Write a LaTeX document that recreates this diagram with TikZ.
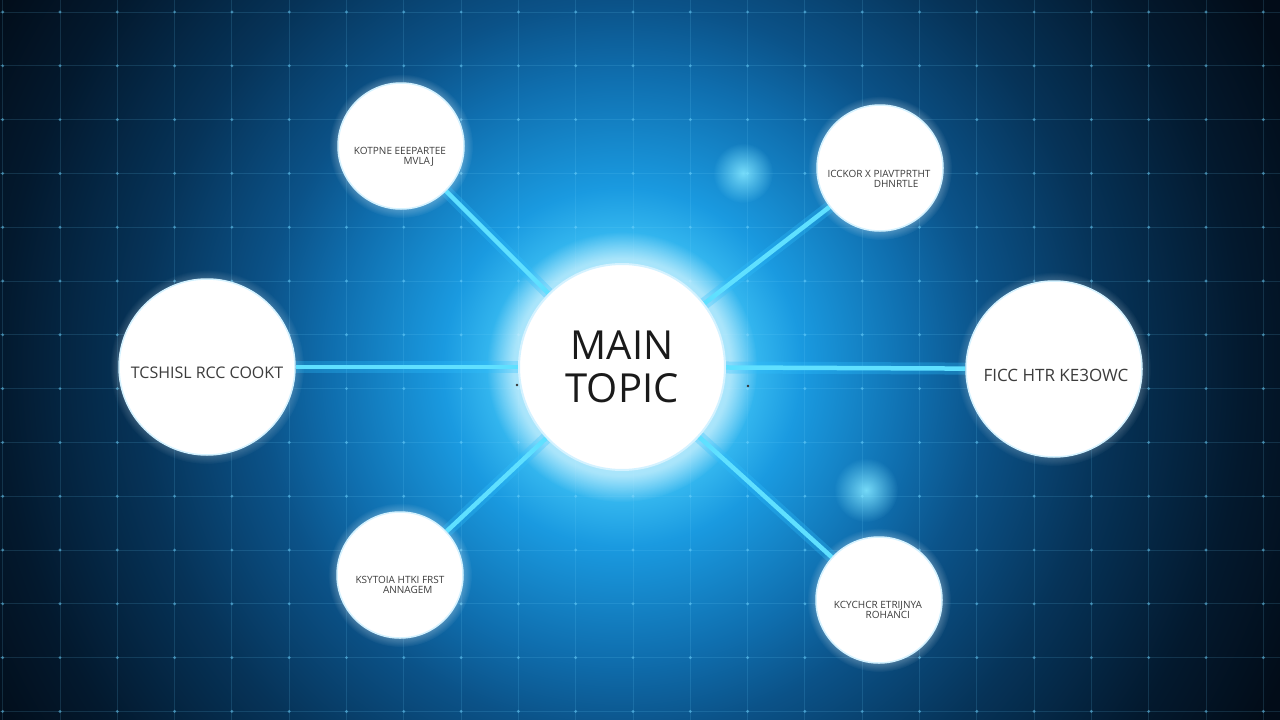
\documentclass[tikz,border=0pt]{standalone}
\usepackage{fontspec}
\setmainfont{Open Sans}
\usetikzlibrary{fadings}
\definecolor{g0}{HTML}{C8F4FF}
\definecolor{g1}{HTML}{44C8F8}
\definecolor{g2}{HTML}{1A9AE0}
\definecolor{g3}{HTML}{0F6EAE}
\definecolor{g4}{HTML}{0B5288}
\definecolor{g5}{HTML}{063358}
\definecolor{g6}{HTML}{03192E}
\definecolor{g7}{HTML}{020C18}
\definecolor{gridc}{HTML}{6FD4FF}
\definecolor{linkc}{HTML}{5FE0FF}
\definecolor{linkglow}{HTML}{2FC0FF}
\definecolor{spotc}{HTML}{7FE4FF}
\definecolor{rimc}{HTML}{D4F2FF}
\definecolor{txt}{HTML}{1A1A1A}
\definecolor{smalltxt}{HTML}{3C3C3C}
\pgfdeclareradialshading{bgglow}{\pgfpoint{0bp}{0bp}}{color(0bp)=(g0); color(3.4bp)=(g1); color(5.9bp)=(g2); color(9.6bp)=(g3); color(12bp)=(g4); color(16bp)=(g5); color(20.5bp)=(g6); color(24bp)=(g7); color(50bp)=(g7)}
\tikzfading[name=softglow, inner color=transparent!0, outer color=transparent!100]
\pgfdeclarelayer{bg}
\pgfdeclarelayer{conn}
\pgfsetlayers{bg,conn,main}
\tikzset{
  hub/.style={circle, fill=white, draw=rimc, line width=2pt, inner sep=0pt, minimum size=206pt, text=txt, align=center, font=\fontsize{40}{43}\selectfont},
  leaf/.style={circle, fill=white, draw=rimc, line width=1.5pt, inner sep=0pt, minimum size=126pt},
  bigleaf/.style={circle, fill=white, draw=rimc, line width=1.5pt, inner sep=0pt, minimum size=176pt},
  smalllbl/.style={inner sep=0pt, align=right, text=smalltxt, font=\fontsize{10}{10.5}\selectfont},
  biglbl/.style={inner sep=0pt, text=smalltxt, font=\fontsize{16}{18}\selectfont},
  gridline/.style={draw=gridc, line width=0.9pt, opacity=0.15},
  griddot/.style={fill=gridc, opacity=0.5},
  linkhalo/.style={draw=linkglow, line width=12pt, opacity=0.3},
  linkcore/.style={draw=linkc, line width=4.5pt},
  halo/.style={fill=white, opacity=0.55, path fading=circle with fuzzy edge 20 percent},
  spot/.style={fill=spotc, opacity=0.9, path fading=softglow},
}
\begin{document}
\begin{tikzpicture}[x=1pt,y=-1pt]
\useasboundingbox (0,0) rectangle (1280,720);
% nodes
\node[hub] (main) at (622,367) {MAIN\\TOPIC};
\node[leaf] (tl) at (401,146) {};
\node[leaf] (tr) at (880,168) {};
\node[bigleaf] (l) at (207,367) {};
\node[bigleaf] (r) at (1054,369) {};
\node[leaf] (bl) at (400,575) {};
\node[leaf] (br) at (879,600) {};
% labels
\node[smalllbl] (tlt) at (400,157) {KOTPNE EEEPARTEE\\MVLAJ\hspace*{12pt}};
\node[smalllbl] (trt) at (879,179) {ICCKOR X PIAVTPRTHT\\DHNRTLE\hspace*{12pt}};
\node[biglbl] (lt) at (207,373) {TCSHISL RCC COOKT};
\node[biglbl, font=\fontsize{17}{19}\selectfont] (rt) at (1056,375) {FICC HTR KE3OWC};
\node[smalllbl] (blt) at (400,585) {KSYTOIA HTKI FRST\\ANNAGEM\hspace*{12pt}};
\node[smalllbl] (brt) at (878,610) {KCYCHCR ETRIJNYA\\ROHANCI\hspace*{12pt}};
% background
\begin{pgfonlayer}{bg}
\begin{scope}
\clip (0,0) rectangle (1280,720);
\fill[g7] (0,0) rectangle (1280,720);
\shade[shading=bgglow] (622,367) circle[radius=760pt];
\foreach \i in {0,...,22} \draw[gridline] ({2.7+57.3*\i},0) -- ({2.7+57.3*\i},720);
\foreach \j in {0,...,13} \draw[gridline] (0,{12+53.8*\j}) -- (1280,{12+53.8*\j});
\foreach \i in {0,...,22} \foreach \j in {0,...,13} \fill[griddot] ({2.7+57.3*\i},{12+53.8*\j}) circle[radius=1.6pt];
\fill[spot] (743,173) circle[radius=30pt];
\fill[spot] (866,490) circle[radius=32pt];
\end{scope}
\end{pgfonlayer}
% connectors and halos
\begin{pgfonlayer}{conn}
\fill[halo] (main.center) circle[radius=135pt];
\foreach \n/\r in {tl/72,tr/72,bl/72,br/72,l/97,r/97} \fill[halo, opacity=0.4] (\n.center) circle[radius=\r pt];
\foreach \n in {tl,tr,l,r,bl,br} {
  \draw[linkhalo] (main) -- (\n);
  \draw[linkcore] (main) -- (\n);
}
\end{pgfonlayer}
% small dark specks
\fill[black!80] (517,385) circle[radius=1.3pt];
\fill[black!80] (748,386) circle[radius=1.3pt];
\end{tikzpicture}
\end{document}
